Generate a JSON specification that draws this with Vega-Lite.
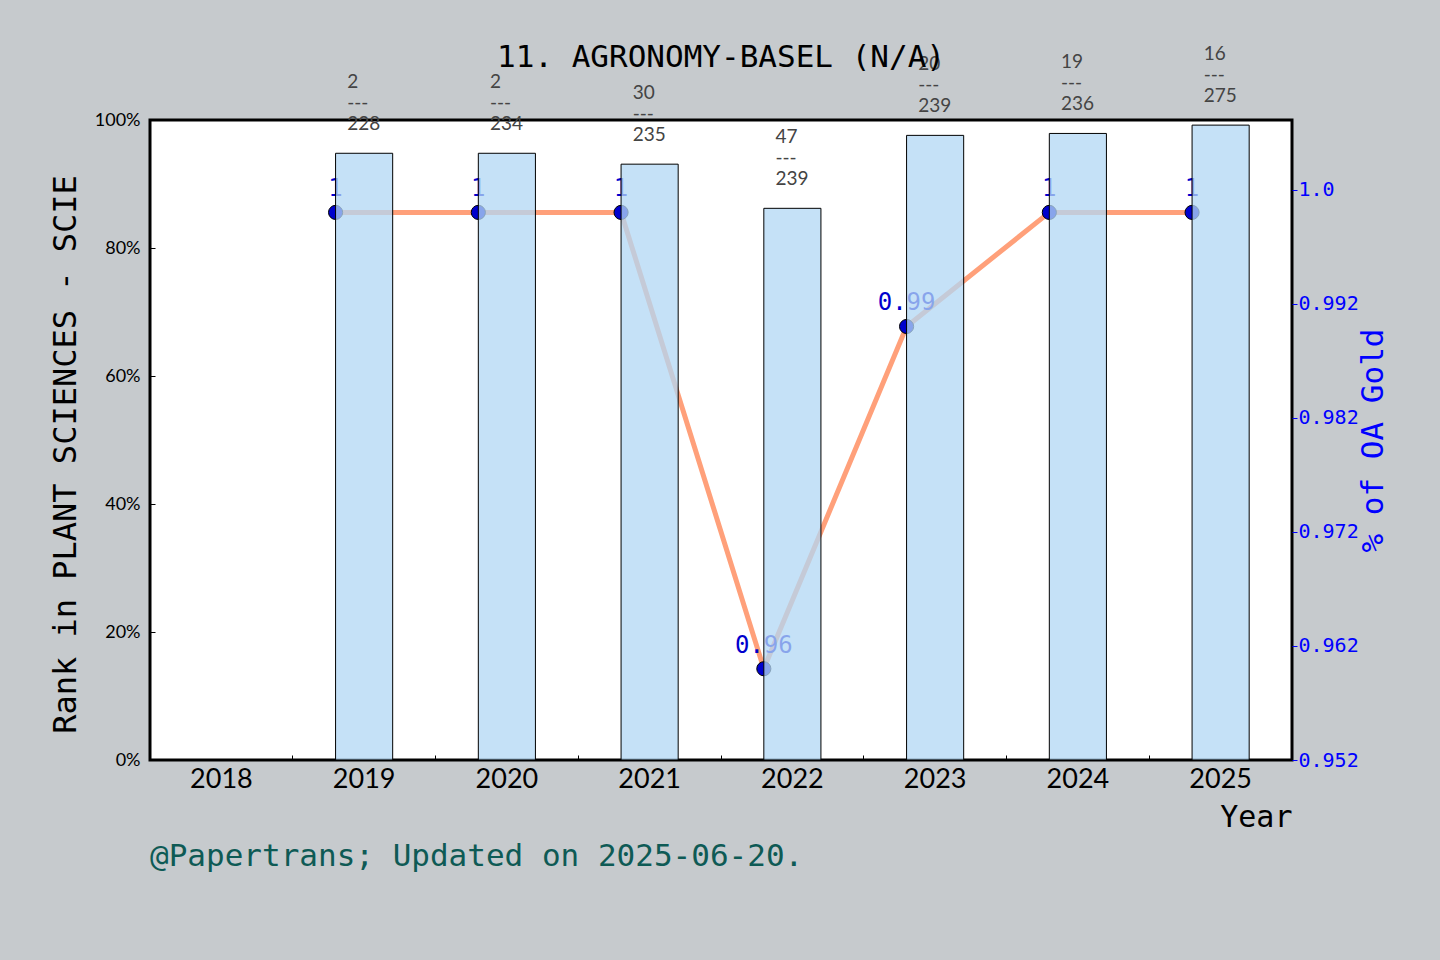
{
  "$schema": "https://vega.github.io/schema/vega-lite/v6.json",
  "width": 1142,
  "height": 640,
  "autosize": {"type": "none"},
  "padding": {"left": 150, "top": 120, "right": 148, "bottom": 200},
  "background": "#c6cacd",
  "view": {"fill": "white", "stroke": "black", "strokeWidth": 3},
  "title": {
    "text": "11. AGRONOMY-BASEL (N/A)",
    "font": "DejaVu Sans Mono",
    "fontSize": 31,
    "fontWeight": "normal",
    "color": "black",
    "anchor": "middle",
    "frame": "group",
    "baseline": "alphabetic",
    "offset": -53
  },
  "data": {
    "values": [
      {"year": "2019", "rank_pct": 0.948, "oa": 1.0, "oa_text": "1", "rank_label": "2\n---\n228"},
      {"year": "2020", "rank_pct": 0.948, "oa": 1.0, "oa_text": "1", "rank_label": "2\n---\n234"},
      {"year": "2021", "rank_pct": 0.931, "oa": 1.0, "oa_text": "1", "rank_label": "30\n---\n235"},
      {"year": "2022", "rank_pct": 0.862, "oa": 0.96, "oa_text": "0.96", "rank_label": "47\n---\n239"},
      {"year": "2023", "rank_pct": 0.976, "oa": 0.99, "oa_text": "0.99", "rank_label": "20\n---\n239"},
      {"year": "2024", "rank_pct": 0.979, "oa": 1.0, "oa_text": "1", "rank_label": "19\n---\n236"},
      {"year": "2025", "rank_pct": 0.992, "oa": 1.0, "oa_text": "1", "rank_label": "16\n---\n275"}
    ]
  },
  "layer": [
    {
      "encoding": {
        "x": {
          "field": "year",
          "type": "ordinal",
          "scale": {"type": "point", "domain": ["2018", "2019", "2020", "2021", "2022", "2023", "2024", "2025"], "padding": 0.5, "align": 0.3},
          "axis": null
        },
        "y": {
          "field": "oa",
          "type": "quantitative",
          "scale": {"domain": [0.952, 1.0081], "zero": false, "nice": false},
          "axis": {
            "orient": "right",
            "values": [0.952, 0.962, 0.972, 0.982, 0.992, 1.002],
            "labelExpr": "datum.value > 1 ? '1.0' : format(datum.value, '.3f')",
            "labelFont": "DejaVu Sans Mono",
            "labelFontSize": 20,
            "labelColor": "blue",
            "labelPadding": 1,
            "tickColor": "blue",
            "tickSize": 5,
            "tickWidth": 1,
            "domain": false,
            "grid": false,
            "title": "% of OA Gold",
            "titleFont": "DejaVu Sans Mono",
            "titleFontSize": 31,
            "titleFontWeight": "normal",
            "titleColor": "blue",
            "titleAngle": 270,
            "titleBaseline": "top",
            "titlePadding": 0
          }
        }
      },
      "layer": [
        {"mark": {"type": "line", "color": "#ffa07a", "strokeWidth": 5}},
        {"mark": {"type": "point", "shape": "circle", "filled": true, "size": 200, "fill": "#0000cd", "stroke": "black", "strokeWidth": 1, "opacity": 1}},
        {
          "mark": {"type": "text", "font": "DejaVu Sans Mono", "fontSize": 24, "color": "#0000cd", "align": "center", "baseline": "alphabetic", "dy": -16},
          "encoding": {"text": {"field": "oa_text", "type": "nominal"}}
        }
      ]
    },
    {
      "encoding": {
        "x": {
          "field": "year",
          "type": "ordinal",
          "scale": {"type": "band", "domain": ["2018", "2019", "2020", "2021", "2022", "2023", "2024", "2025"], "paddingInner": 0, "paddingOuter": 0},
          "axis": {
            "orient": "bottom",
            "bandPosition": 0,
            "labelAngle": 0,
            "labelFont": "Lato",
            "labelFontSize": 27,
            "labelColor": "black",
            "labelPadding": 11,
            "tickColor": "black",
            "tickSize": -5,
            "tickWidth": 1,
            "domain": false,
            "grid": false,
            "title": "Year",
            "titleFont": "DejaVu Sans Mono",
            "titleFontSize": 30,
            "titleFontWeight": "normal",
            "titleColor": "black",
            "titleAnchor": "end",
            "titlePadding": 10
          }
        },
        "y": {
          "field": "rank_pct",
          "type": "quantitative",
          "scale": {"domain": [0, 1], "nice": false},
          "axis": {
            "orient": "left",
            "values": [0, 0.2, 0.4, 0.6, 0.8, 1],
            "format": ".0%",
            "labelFont": "Lato",
            "labelFontSize": 18,
            "labelColor": "black",
            "labelPadding": 15,
            "tickColor": "black",
            "tickSize": -5,
            "tickWidth": 1,
            "domain": false,
            "grid": false,
            "title": "Rank in PLANT SCIENCES - SCIE",
            "titleFont": "DejaVu Sans Mono",
            "titleFontSize": 32,
            "titleFontWeight": "normal",
            "titleColor": "black",
            "titlePadding": 12,
            "titleY": 334
          }
        }
      },
      "layer": [
        {
          "mark": {"type": "bar", "width": {"band": 0.4}, "color": "#b3d8f5", "fillOpacity": 0.76, "stroke": "black", "strokeWidth": 1}
        },
        {
          "mark": {"type": "text", "font": "Lato", "fontSize": 19, "color": "#444444", "align": "left", "baseline": "alphabetic", "lineBreak": "\n", "lineHeight": 21, "dx": -17, "dy": -65},
          "encoding": {"text": {"field": "rank_label", "type": "nominal"}}
        },
        {
          "data": {"values": [{"note": "@Papertrans; Updated on 2025-06-20."}]},
          "mark": {"type": "text", "font": "DejaVu Sans Mono", "fontSize": 31, "color": "#0e5a55", "align": "left", "baseline": "alphabetic", "dy": 106},
          "encoding": {
            "x": {"value": 0},
            "y": {"value": "height"},
            "text": {"field": "note", "type": "nominal"}
          }
        }
      ]
    }
  ],
  "resolve": {"scale": {"x": "independent", "y": "independent"}, "axis": {"x": "independent"}}
}
